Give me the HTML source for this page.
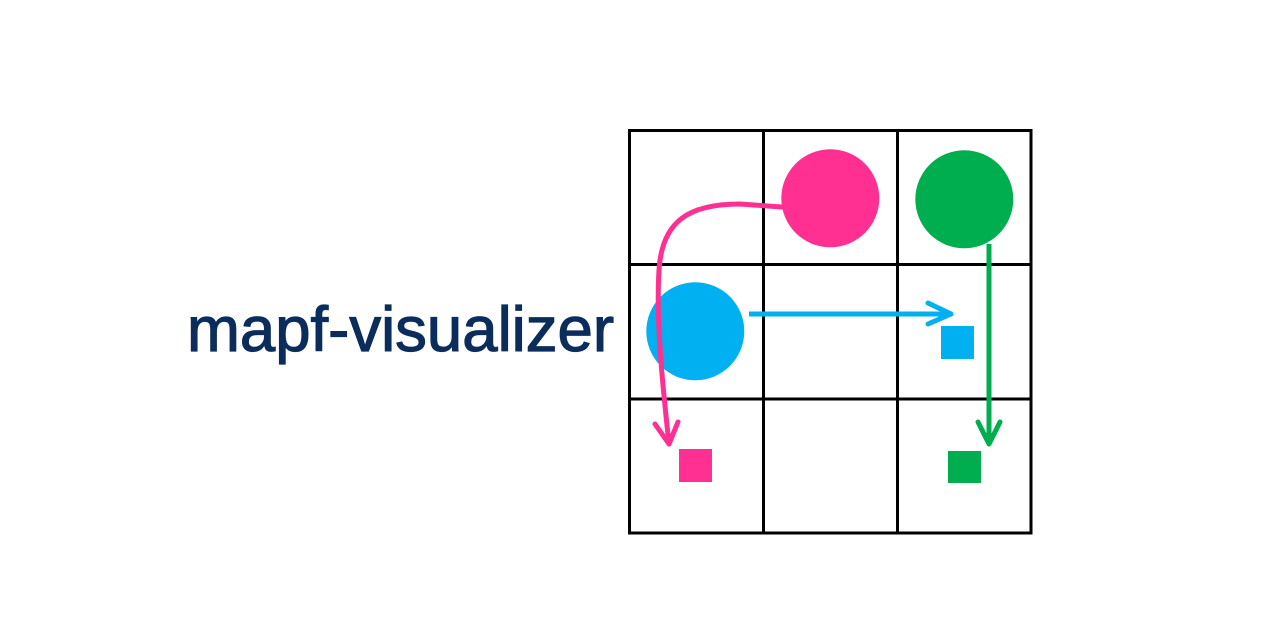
<!DOCTYPE html>
<html><head><meta charset="utf-8"><style>html,body{margin:0;padding:0;background:#fff}svg{display:block}</style></head>
<body>
<svg width="1280" height="640" viewBox="0 0 1280 640" xmlns="http://www.w3.org/2000/svg">
<rect width="1280" height="640" fill="#fff"/>
<text x="187" y="351" font-family="Liberation Sans, sans-serif" font-size="63" fill="#0b2d5c" stroke="#0b2d5c" stroke-width="1.2" textLength="427" lengthAdjust="spacingAndGlyphs">mapf-visualizer</text>
<g stroke="#000" stroke-width="3" fill="none">
<rect x="629.5" y="130.5" width="401.5" height="402.5"/>
<line x1="763.5" y1="130" x2="763.5" y2="533"/>
<line x1="897.5" y1="130" x2="897.5" y2="533"/>
<line x1="629" y1="264.5" x2="1031" y2="264.5"/>
<line x1="629" y1="399" x2="1031" y2="399"/>
</g>
<circle cx="830.3" cy="198.3" r="49" fill="#ff3092"/>
<circle cx="964.3" cy="199.3" r="49" fill="#00ae50"/>
<circle cx="695.3" cy="331.3" r="49" fill="#00b0f0"/>
<rect x="679" y="449" width="33" height="33" fill="#ff3092"/>
<rect x="941" y="326" width="33" height="33" fill="#00b0f0"/>
<rect x="948" y="451" width="33" height="32" fill="#00ae50"/>
<g fill="none" stroke-width="5" stroke-linecap="round" stroke-linejoin="round">
<path d="M782 207 L740 204 C690 204 662 220 659 270 C656 320 662 380 669 444" stroke="#ff3092"/>
<path d="M655 424 L669 444 L678 422" stroke="#ff3092"/>
<path d="M749 314 L951 314" stroke="#00b0f0" stroke-linecap="butt"/>
<path d="M928 303 L951 314 L928 324" stroke="#00b0f0"/>
<path d="M989 244 L989 444" stroke="#00ae50" stroke-linecap="butt"/>
<path d="M978 422 L989 444 L1000 422" stroke="#00ae50"/>
</g>
</svg>
</body></html>
